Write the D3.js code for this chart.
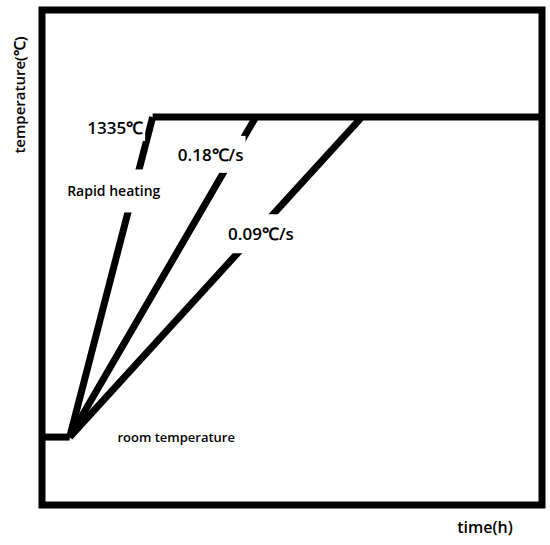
<!DOCTYPE html>
<html><head><meta charset="utf-8">
<script src="https://cdn.jsdelivr.net/npm/d3@7"></script>
<style>body{margin:0;background:#fff}</style>
</head><body><div id="chart"></div>
<script>
// time in arbitrary units (0-100), temperature in °C
var roomTemp = 25;
var peakTemp = 1335;
var startTime = 5.5;
var seriesNames = ["Rapid heating", "0.18℃/s", "0.09℃/s"];
var reachPeakTime = [22, 42.5, 63.6];
var labels = [
  {text: "1335℃", t: 9, T: 1290, size: 17, pad: 2},
  {text: "0.18℃/s", t: 27, T: 1180, size: 17, pad: 7},
  {text: "Rapid heating", t: 5, T: 1030, size: 14, pad: 12},
  {text: "0.09℃/s", t: 37, T: 855, size: 17, pad: 8},
  {text: "room temperature", t: 15, T: 25, size: 13, pad: 2}
];

var W = 550, H = 545;
var svg = d3.select("#chart").append("svg").attr("width", W).attr("height", H);
var x = d3.scaleLinear().domain([0, 100]).range([42, 545]);
var y = d3.scaleLinear().domain([-253, 1773]).range([505, 10]);

svg.append("rect").attr("x", 42).attr("y", 10).attr("width", 500).attr("height", 495)
  .attr("fill", "none").attr("stroke", "#000").attr("stroke-width", 7);

var line = d3.line().x(function(d) { return x(d[0]); }).y(function(d) { return y(d[1]); });
var g = svg.append("g").attr("fill", "none").attr("stroke", "#000").attr("stroke-width", 7);

g.append("path").attr("d", line([[0, roomTemp], [startTime, roomTemp]]));
reachPeakTime.forEach(function(t) {
  g.append("path").attr("d", line([[startTime, roomTemp], [t, peakTemp]]));
});
g.append("path").attr("d", line([[reachPeakTime[0], peakTemp], [100, peakTemp]]));

labels.forEach(function(d) {
  var bg = svg.append("rect").attr("fill", "#fff");
  var t = svg.append("text")
    .attr("x", x(d.t)).attr("y", y(d.T)).attr("dy", "0.35em")
    .attr("font-family", "Open Sans, sans-serif")
    .attr("font-weight", 600)
    .attr("font-size", d.size)
    .attr("fill", "#000")
    .text(d.text);
  var b = t.node().getBBox();
  bg.attr("x", b.x - 2).attr("y", b.y - d.pad).attr("width", b.width + 4).attr("height", b.height + 2 * d.pad);
});

svg.append("text").attr("transform", "translate(20,95) rotate(-90)")
  .attr("text-anchor", "middle").attr("dy", "0.35em")
  .attr("font-family", "Open Sans, sans-serif").attr("font-weight", 600).attr("font-size", 15)
  .text("temperature(℃)");
svg.append("text").attr("x", 485).attr("y", 527).attr("text-anchor", "middle").attr("dy", "0.35em")
  .attr("font-family", "Open Sans, sans-serif").attr("font-weight", 600).attr("font-size", 16)
  .text("time(h)");
</script></body></html>
